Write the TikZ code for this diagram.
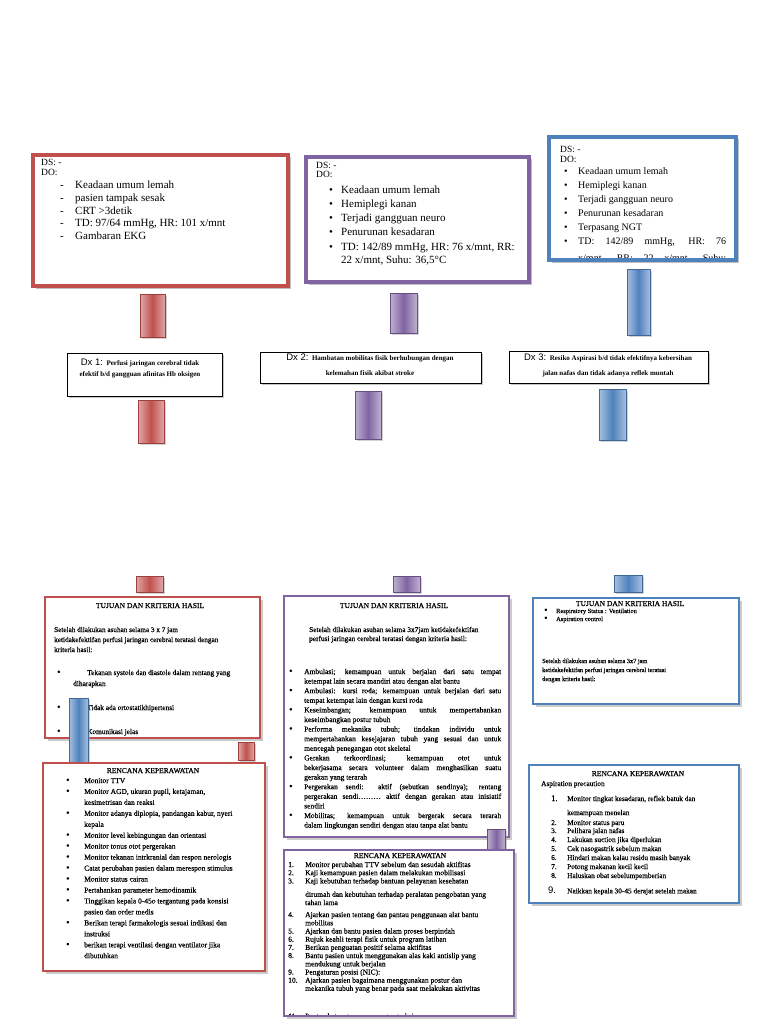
\documentclass[tikz,border=0pt]{standalone}
\usepackage{fontspec}
\setmainfont{Liberation Serif}
\newfontfamily\sansf{Liberation Sans}
\newfontfamily\denf{Liberation Serif}[FakeBold=0.6]
\usetikzlibrary{fit,shadows}
\definecolor{cred}{HTML}{C0504D}
\definecolor{cpur}{HTML}{8064A2}
\definecolor{cblu}{HTML}{4F81BD}
\newcommand\ib[2]{\makebox[#1][l]{#2}}
\newcommand\jl[2]{\makebox[#1][s]{#2}}
\newcommand\bul{{\fontsize{9.5}{8}\selectfont •}}
\tikzset{
  topbox/.style={draw=#1, line width=4.5pt, fill=white, inner sep=0pt,
    drop shadow={shadow xshift=2.5pt, shadow yshift=-2.5pt, fill=black!50}},
  lowbox/.style={draw=#1, line width=2.2pt, fill=white, inner sep=0pt,
    drop shadow={shadow xshift=2.5pt, shadow yshift=-2.5pt, fill=black!40}},
  dxbox/.style={draw=black, line width=0.9pt, fill=white, inner sep=0pt,
    drop shadow={shadow xshift=2pt, shadow yshift=-2pt, fill=black!45}},
  conn/.style={draw=#1!80!black, line width=0.5pt, inner sep=0pt,
    left color=#1!50, right color=#1!50, middle color=#1,
    drop shadow={shadow xshift=1.5pt, shadow yshift=-1.5pt, fill=black!35}},
  txt/.style={anchor=base west, inner sep=0pt},
  ctxt/.style={anchor=base, inner sep=0pt},
  titf/.style={font=\denf\fontsize{7.5}{9}\selectfont},
}
\begin{document}
\begin{tikzpicture}[x=1pt,y=-1pt]
\useasboundingbox[fill=white] (0,0) rectangle (768,1024);

% ---------- top observation boxes ----------
\node[topbox=cred, fit={(33,155) (288,286)}] (obs1) {};
\node[txt, font=\fontsize{9.5}{10}\selectfont] (ds1) at (41,166) {DS: -};
\node[txt, font=\fontsize{9.5}{10}\selectfont] (do1) at (41,176) {DO:};
\node[txt, font=\fontsize{11}{12.6}\selectfont] (list1) at (60,189) {\begin{tabular}[t]{@{}l@{}}
\ib{15pt}{-}Keadaan umum lemah\\
\ib{15pt}{-}pasien tampak sesak\\
\ib{15pt}{-}CRT >3detik\\
\ib{15pt}{-}TD: 97/64 mmHg, HR: 101 x/mnt\\
\ib{15pt}{-}Gambaran EKG
\end{tabular}};

\node[topbox=cpur, fit={(306,157) (529,282)}] (obs2) {};
\node[txt, font=\fontsize{9.5}{10}\selectfont] (ds2) at (316,169) {DS: -};
\node[txt, font=\fontsize{9.5}{10}\selectfont] (do2) at (316,178) {DO:};
\node[txt, font=\fontsize{11}{14}\selectfont] (list2) at (329,194) {\begin{tabular}[t]{@{}l@{}}
\ib{12pt}{•}Keadaan umum lemah\\
\ib{12pt}{•}Hemiplegi kanan\\
\ib{12pt}{•}Terjadi gangguan neuro\\
\ib{12pt}{•}Penurunan kesadaran\\
\ib{12pt}{•}TD: 142/89 mmHg, HR: 76 x/mnt, RR:\\
\ib{12pt}{}22 x/mnt, Suhu: 36,5°C
\end{tabular}};

\node[topbox=cblu, fit={(549,137) (736,260)}] (obs3) {};
\node[txt, font=\fontsize{9.5}{10}\selectfont] (ds3) at (560,153) {DS: -};
\node[txt, font=\fontsize{9.5}{10}\selectfont] (do3) at (560,163) {DO:};
\begin{scope}
\clip (551.3,139.3) rectangle (733.7,257.6);
\node[txt, font=\fontsize{10}{14}\selectfont] (list3) at (564,175) {\begin{tabular}[t]{@{}l@{}}
\ib{14pt}{•}Keadaan umum lemah\\
\ib{14pt}{•}Hemiplegi kanan\\
\ib{14pt}{•}Terjadi gangguan neuro\\
\ib{14pt}{•}Penurunan kesadaran\\
\ib{14pt}{•}Terpasang NGT\\
\ib{14pt}{•}\jl{148pt}{TD: 142/89 mmHg, HR: 76}\\[2.5pt]
\ib{14pt}{}\jl{148pt}{x/mnt, RR: 22 x/mnt, Suhu:}
\end{tabular}};
\end{scope}

% ---------- connectors top ----------
\node[conn=cred, fit={(140,294) (165,337)}] (c1a) {};
\node[conn=cpur, fit={(390,293) (417,333)}] (c2a) {};
\node[conn=cblu, fit={(627,269) (650,335)}] (c3a) {};

% ---------- diagnosis boxes ----------
\node[dxbox, fit={(67,353) (222,396)}] (dx1) {};
\node[ctxt, font=\bfseries\fontsize{7}{11}\selectfont] (dx1t) at (140,365) {\begin{tabular}[t]{@{}c@{}}{\sansf\mdseries\fontsize{9.5}{11}\selectfont Dx 1: }Perfusi jaringan cerebral tidak\\ efektif b/d gangguan afinitas Hb oksigen\end{tabular}};

\node[dxbox, fit={(260,352) (481,383)}] (dx2) {};
\node[ctxt, font=\bfseries\fontsize{7}{15}\selectfont] (dx2t) at (370,360) {\begin{tabular}[t]{@{}c@{}}{\sansf\mdseries\fontsize{9.5}{15}\selectfont Dx 2: }Hambatan mobilitas fisik berhubungan dengan\\ kelemahan fisik akibat stroke\end{tabular}};

\node[dxbox, fit={(509,351) (708,383)}] (dx3) {};
\node[ctxt, font=\bfseries\fontsize{7}{15}\selectfont] (dx3t) at (608,360) {\begin{tabular}[t]{@{}c@{}}{\sansf\mdseries\fontsize{9.5}{15}\selectfont Dx 3: }Resiko Aspirasi b/d tidak efektifnya kebersihan\\ jalan nafas dan tidak adanya reflek muntah\end{tabular}};

% ---------- connectors middle ----------
\node[conn=cred, fit={(138,400) (164,443)}] (c1b) {};
\node[conn=cpur, fit={(355,391) (381,439)}] (c2b) {};
\node[conn=cblu, fit={(599,389) (626,440)}] (c3b) {};

\node[conn=cred, fit={(136,576) (163,592)}] (c1c) {};
\node[conn=cpur, fit={(393,576) (420,592)}] (c2c) {};
\node[conn=cblu, fit={(614,575) (642,592)}] (c3c) {};

% ---------- goal boxes ----------
\node[lowbox=cred, fit={(45,597) (260,738)}] (goal1) {};
\node[ctxt, titf] (g1t) at (150,608) {TUJUAN DAN KRITERIA HASIL};
\node[txt, font=\denf\fontsize{7.2}{10}\selectfont] (g1b) at (54,632) {\begin{tabular}[t]{@{}l@{}}Setelah dilakukan asuhan selama 3 x 7 jam\\ ketidakefektifan perfusi jaringan cerebral teratasi dengan\\ kriteria hasil:\end{tabular}};
\node[txt, font=\denf\fontsize{7.3}{10}\selectfont] (g1i1) at (57,675) {\ib{30pt}{\bul}Tekanan systole dan diastole dalam rentang yang};
\node[txt, font=\denf\fontsize{7.3}{10}\selectfont] (g1i1b) at (73,686) {diharapkan};
\node[txt, font=\denf\fontsize{7.3}{10}\selectfont] (g1i2) at (57,710) {\ib{30pt}{\bul}Tidak ada ortostatikhipertensi};
\node[txt, font=\denf\fontsize{7.3}{10}\selectfont] (g1i3) at (57,734) {\ib{30pt}{\bul}Komunikasi jelas};

\node[lowbox=cpur, fit={(284,596) (509,837)}] (goal2) {};
\node[ctxt, titf] (g2t) at (394,608) {TUJUAN DAN KRITERIA HASIL};
\node[txt, font=\denf\fontsize{7.3}{9}\selectfont] (g2b) at (309,632) {\begin{tabular}[t]{@{}l@{}}Setelah dilakukan asuhan selama 3x7jam ketidakefektifan\\ perfusi jaringan cerebral teratasi dengan kriteria hasil:\end{tabular}};
\node[txt, font=\denf\fontsize{7.5}{9.6}\selectfont] (g2l) at (289,674) {\begin{tabular}[t]{@{}l@{}}
\ib{15pt}{\bul}\jl{197pt}{Ambulasi; kemampuan untuk berjalan dari satu tempat}\\
\ib{15pt}{}ketempat lain secara mandiri atau dengan alat bantu\\
\ib{15pt}{\bul}\jl{197pt}{Ambulasi: kursi roda; kemampuan untuk berjalan dari satu}\\
\ib{15pt}{}tempat ketempat lain dengan kursi roda\\
\ib{15pt}{\bul}\jl{197pt}{Keseimbangan; kemampuan untuk mempertahankan}\\
\ib{15pt}{}keseimbangkan postur tubuh\\
\ib{15pt}{\bul}\jl{197pt}{Performa mekanika tubuh; tindakan individu untuk}\\
\ib{15pt}{}\jl{197pt}{mempertahankan kesejajaran tubuh yang sesuai dan untuk}\\
\ib{15pt}{}mencegah penegangan otot skeletal\\
\ib{15pt}{\bul}\jl{197pt}{Gerakan terkoordinasi; kemampuan otot untuk}\\
\ib{15pt}{}\jl{197pt}{bekerjasama secara volunteer dalam menghasilkan suatu}\\
\ib{15pt}{}gerakan yang terarah\\
\ib{15pt}{\bul}\jl{197pt}{Pergerakan sendi: aktif (sebutkan sendinya); rentang}\\
\ib{15pt}{}\jl{197pt}{pergerakan sendi……… aktif dengan gerakan atau inisiatif}\\
\ib{15pt}{}sendiri\\
\ib{15pt}{\bul}\jl{197pt}{Mobilitas; kemampuan untuk bergerak secara terarah}\\
\ib{15pt}{}dalam lingkungan sendiri dengan atau tanpa alat bantu
\end{tabular}};

\node[lowbox=cblu, fit={(533,598) (739,704)}] (goal3) {};
\node[ctxt, titf] (g3t) at (630,606) {TUJUAN DAN KRITERIA HASIL};
\node[txt, font=\denf\fontsize{6.4}{8}\selectfont] (g3l) at (544,613) {\begin{tabular}[t]{@{}l@{}}\ib{12pt}{\bul}Respiratory Status : Ventilation\\ \ib{12pt}{\bul}Aspiration control\end{tabular}};
\node[txt, font=\denf\fontsize{6.3}{9}\selectfont] (g3b) at (542,663) {\begin{tabular}[t]{@{}l@{}}Setelah dilakukan asuhan selama 3x7 jam\\ ketidakefektifan perfusi jaringan cerebral teratasi\\ dengan kriteria hasil:\end{tabular}};

% ---------- stray connector pieces ----------
\node[conn=cblu, fit={(69,698) (88,762)}] (s1) {};
\node[conn=cred, fit={(238,742) (254,760)}] (s2) {};
\node[conn=cpur, fit={(487,829) (505,851)}] (s3) {};

% ---------- care plan boxes ----------
\node[lowbox=cred, fit={(43,763) (265,971)}] (plan1) {};
\node[ctxt, titf] (p1t) at (153,773) {RENCANA KEPERAWATAN};
\node[txt, font=\denf\fontsize{7.5}{10.95}\selectfont] (p1l) at (66,783) {\begin{tabular}[t]{@{}l@{}}
\ib{18pt}{\bul}Monitor TTV\\
\ib{18pt}{\bul}Monitor AGD, ukuran pupil, ketajaman,\\
\ib{18pt}{}kesimetrisan dan reaksi\\
\ib{18pt}{\bul}Monitor adanya diplopia, pandangan kabur, nyeri\\
\ib{18pt}{}kepala\\
\ib{18pt}{\bul}Monitor level kebingungan dan orientasi\\
\ib{18pt}{\bul}Monitor tonus otot pergerakan\\
\ib{18pt}{\bul}Monitor tekanan intrkranial dan respon nerologis\\
\ib{18pt}{\bul}Catat perubahan pasien dalam merespon stimulus\\
\ib{18pt}{\bul}Monitor status cairan\\
\ib{18pt}{\bul}Pertahankan parameter hemodinamik\\
\ib{18pt}{\bul}Tinggikan kepala 0-45o tergantung pada konsisi\\
\ib{18pt}{}pasien dan order medis\\
\ib{18pt}{\bul}Berikan terapi farmakologis sesuai indikasi dan\\
\ib{18pt}{}instruksi\\
\ib{18pt}{\bul}berikan terapi ventilasi dengan ventilator jika\\
\ib{18pt}{}dibutuhkan
\end{tabular}};

\node[lowbox=cpur, fit={(284,850) (514,1016)}] (plan2) {};
\node[ctxt, titf] (p2t) at (400,858) {RENCANA KEPERAWATAN};
\begin{scope}
\clip (285.1,851.1) rectangle (512.9,1014.9);
\node[txt, font=\denf\fontsize{7.5}{8.2}\selectfont] (p2l) at (288,867) {\begin{tabular}[t]{@{}l@{}}
\ib{17pt}{1.}Monitor perubahan TTV sebelum dan sesudah aktifitas\\
\ib{17pt}{2.}Kaji kemampuan pasien dalam melakukan mobilisasi\\
\ib{17pt}{3.}Kaji kebutuhan terhadap bantuan pelayanan kesehatan\\[5.3pt]
\ib{17pt}{}dirumah dan kebutuhan terhadap peralatan pengobatan yang\\
\ib{17pt}{}tahan lama\\[3.8pt]
\ib{17pt}{4.}Ajarkan pasien tentang dan pantau penggunaan alat bantu\\
\ib{17pt}{}mobilitas\\
\ib{17pt}{5.}Ajarkan dan bantu pasien dalam proses berpindah\\
\ib{17pt}{6.}Rujuk keahli terapi fisik untuk program latihan\\
\ib{17pt}{7.}Berikan penguatan positif selama aktifitas\\
\ib{17pt}{8.}Bantu pasien untuk menggunakan alas kaki antislip yang\\
\ib{17pt}{}mendukung untuk berjalan\\
\ib{17pt}{9.}Pengaturan posisi (NIC):\\
\ib{17pt}{10.}Ajarkan pasien bagaimana menggunakan postur dan\\
\ib{17pt}{}mekanika tubuh yang benar pada saat melakukan aktivitas\\[19.5pt]
\ib{17pt}{11.}Pantau ketepatan pemasangan traksi
\end{tabular}};
\end{scope}

\node[lowbox=cblu, fit={(529,765) (739,903)}] (plan3) {};
\node[ctxt, titf] (p3t) at (638,776) {RENCANA KEPERAWATAN};
\node[txt, font=\denf\fontsize{7.3}{9}\selectfont] (p3a) at (541,786) {Aspiration precaution};
\node[txt, font=\denf\fontsize{7.3}{9}\selectfont] (p3l) at (551,801) {\begin{tabular}[t]{@{}l@{}}
\ib{16pt}{\fontsize{8.5}{9}\selectfont 1.}Monitor tingkat kesadaran, reflek batuk dan\\[5pt]
\ib{16pt}{}kemampuan menelan\\[1pt]
\ib{16pt}{2.}Monitor status paru\\[-1pt]
\ib{16pt}{3.}Pelihara jalan nafas\\
\ib{16pt}{4.}Lakukan suction jika diperlukan\\
\ib{16pt}{5.}Cek nasogastrik sebelum makan\\
\ib{16pt}{6.}Hindari makan kalau residu masih banyak\\
\ib{16pt}{7.}Potong makanan kecil kecil\\
\ib{16pt}{8.}Haluskan obat sebelumpemberian\\[6pt]
\ib{16pt}{\hspace*{-3pt}{\sansf\fontsize{9.5}{9}\selectfont 9.}}Naikkan kepala 30-45 derajat setelah makan
\end{tabular}};

\end{tikzpicture}
\end{document}
